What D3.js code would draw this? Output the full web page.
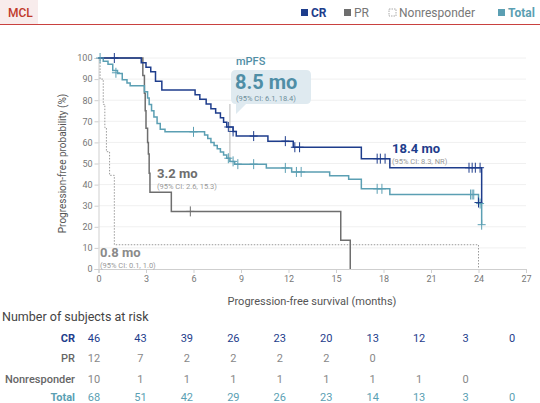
<!DOCTYPE html>
<html><head><meta charset="utf-8">
<script src="https://cdn.jsdelivr.net/npm/d3@7"></script>
<style>body{margin:0;background:#fff;font-family:Roboto,sans-serif}</style>
</head><body><div id="chart"></div>
<script>
var COLORS = {CR: '#1e3d8c', PR: '#6e6e6e', NR: '#9a9a9a', Total: '#5b9fb3'};

// step curves: [month, percent]
var CR_CURVE = [[0,100],[2.7,97.8],[3.0,95.6],[3.3,93.5],[3.6,89],[4.0,84.8],[6.1,82.6],[6.4,80.4],[6.8,78.2],[7.1,76],[7.4,73.9],[7.7,71.7],[7.9,69.5],[8.1,67.3],[8.5,65.2],[8.7,63],[10.7,60.6],[12.3,57.7],[16.6,52.3],[18.4,48],[24.2,31.5]];
var PR_CURVE = [[0,100],[2.8,91.7],[2.9,83.3],[2.95,75],[3.0,66.7],[3.1,60],[3.15,54.5],[3.2,45.4],[3.25,36.4],[4.6,27.3],[15.3,13.6],[15.9,0]];
var NR_CURVE = [[0,100],[0.1,90],[0.3,78],[0.4,67],[0.5,55.6],[0.7,44.4],[1.0,11.5],[24,0]];
var TOTAL_CURVE = [[0,100],[0.3,98.5],[0.6,97],[0.9,94.1],[1.2,92.6],[1.5,89.7],[1.8,88.2],[2.0,86.8],[2.9,84],[3.1,81],[3.2,78],[3.35,75],[3.5,72],[3.7,69],[3.9,66.2],[4.2,65],[6.7,63.5],[6.9,61.8],[7.1,60],[7.3,58.5],[7.5,57],[7.7,55.5],[7.9,54],[8.1,52.5],[8.3,51],[8.6,49.7],[10.6,47.9],[12.2,46],[14.6,44.2],[15.8,42.5],[16.6,38],[18.4,35.3],[24.0,31],[24.2,21]];

var CR_CENSOR = [[1.0,100],[8.2,67.3],[8.5,65.2],[9.8,63],[11.8,60.6],[12.4,57.7],[12.7,57.7],[17.6,52.3],[17.8,52.3],[18.1,52.3],[23.4,48],[23.6,48],[23.8,48],[24.1,48],[24.0,31.5]];
var PR_CENSOR = [[5.8,27.3]];
var TOTAL_CENSOR = [[0.1,100],[1.1,93],[6.0,65],[8.2,52.5],[8.5,51],[8.8,49.7],[9.8,49.7],[11.8,47.9],[12.5,46],[12.8,46],[17.6,38],[17.9,38],[23.5,35.3],[23.6,35.3],[23.7,35.3],[24.1,31],[24.2,21]];

var X_TICKS = [0,3,6,9,12,15,18,21,24,27];
var Y_TICKS = [0,10,20,30,40,50,60,70,80,90,100];
var RISK_ROWS = ['CR','PR','Nonresponder','Total'];
var RISK_KEYS = ['CR','PR','NR','Total'];
var RISK_CR = [46,43,39,26,23,20,13,12,3,0];
var RISK_PR = [12,7,2,2,2,2,0];
var RISK_NR = [10,1,1,1,1,1,1,1,0];
var RISK_TOTAL = [68,51,42,29,26,23,14,13,3,0];

var W = 540, H = 403;
var svg = d3.select('#chart').append('svg').attr('width', W).attr('height', H);

// header
svg.append('rect').attr('x',0).attr('y',0).attr('width',38).attr('height',24).attr('fill','#f8ecec');
svg.append('text').attr('x',8).attr('y',17).text('MCL').attr('fill','#c0392b').attr('font-size',12).attr('font-weight',500);
svg.append('line').attr('x1',0).attr('x2',W).attr('y1',24.5).attr('y2',24.5).attr('stroke','#c9413f').attr('stroke-width',1.2);

var legend = [['CR',COLORS.CR,301,'bold'],['PR',COLORS.PR,344,'normal'],['Nonresponder',null,389,'normal'],['Total',COLORS.Total,498,'bold']];
legend.forEach(function(l) {
    svg.append('rect').attr('x',l[2]).attr('y',9).attr('width',7).attr('height',7)
        .attr('fill', l[1] || '#fff').attr('stroke', l[1] ? 'none' : '#aaa').attr('stroke-dasharray', l[1] ? null : '1.5,1');
    svg.append('text').attr('x',l[2]+10).attr('y',17).text(l[0]).attr('font-size',12)
        .attr('font-weight', l[3] == 'bold' ? 700 : 400)
        .attr('fill', l[0] == 'CR' ? COLORS.CR : l[0] == 'Total' ? COLORS.Total : '#777');
});

var sx = d3.scaleLinear().domain([0,27]).range([98.5,526]);
var sy = d3.scaleLinear().domain([0,100]).range([269,58]);

var g = svg.append('g');
g.selectAll('.grid').data(Y_TICKS.slice(1)).enter().append('line')
    .attr('x1', sx(0)).attr('x2', sx(27)).attr('y1', sy).attr('y2', sy)
    .attr('stroke','#f0f0f0');

var gx = g.append('g').attr('transform','translate(0,'+ sy(0) +')')
    .call(d3.axisBottom(sx).tickValues(X_TICKS).tickSize(4).tickPadding(3));
var gy = g.append('g').attr('transform','translate('+ sx(0) +',0)')
    .call(d3.axisLeft(sy).tickValues(Y_TICKS).tickSize(4).tickPadding(2));
[gx, gy].forEach(function(a) {
    a.selectAll('path,line').attr('stroke','#cfcfcf');
    a.selectAll('text').attr('fill','#777').attr('font-size',9).attr('font-family','Roboto');
});

svg.append('text').attr('x', 312).attr('y', 305).attr('text-anchor','middle')
    .text('Progression-free survival (months)').attr('font-size',11).attr('fill','#555');
svg.append('text').attr('transform','translate(66,'+ sy(50) +') rotate(-90)').attr('text-anchor','middle')
    .text('Progression-free probability (%)').attr('font-size',10).attr('fill','#555');

// median pointer line
g.append('line').attr('x1', sx(8.3)).attr('x2', sx(8.3)).attr('y1', sy(51)).attr('y2', 104)
    .attr('stroke','#b9b9b9').attr('stroke-width',1);

var line = d3.line().x(function(d){ return sx(d[0]); }).y(function(d){ return sy(d[1]); }).curve(d3.curveStepAfter);
function draw(curve, color, width, dash) {
    g.append('path').datum(curve).attr('d', line).attr('fill','none')
        .attr('stroke', color).attr('stroke-width', width).attr('stroke-dasharray', dash);
}
function marks(pts, color) {
    g.selectAll(null).data(pts).enter().append('path')
        .attr('d', function(d){ var x = sx(d[0]), y = sy(d[1]); return 'M'+(x-4)+','+y+'H'+(x+4)+'M'+x+','+(y-5)+'V'+(y+5); })
        .attr('stroke', color).attr('stroke-width',1);
}
draw(NR_CURVE, COLORS.NR, 1, '1.5,1.5');
draw(PR_CURVE, COLORS.PR, 1.5);
draw(TOTAL_CURVE, COLORS.Total, 1.5);
draw(CR_CURVE, COLORS.CR, 1.5);
marks(PR_CENSOR, COLORS.PR);
marks(TOTAL_CENSOR, COLORS.Total);
marks(CR_CENSOR, COLORS.CR);

// annotations
svg.append('path').attr('d','M236,70 H306 Q311,70 311,75 V99 Q311,104 306,104 H246 L236,114 V104 Q231,104 231,99 V75 Q231,70 236,70 Z')
    .attr('fill','#dfeaf0');
svg.append('text').attr('x',236).attr('y',65).text('mPFS').attr('fill','#4f8ea6').attr('font-size',11).attr('font-weight',500);
svg.append('text').attr('x',235).attr('y',89).text('8.5 mo').attr('fill','#4f8ea6').attr('font-size',20).attr('font-weight',700);
svg.append('text').attr('x',236).attr('y',101).text('(95% CI: 6.1, 18.4)').attr('fill','#6e8e9b').attr('font-size',7.5);
var notes = [[392,153,'18.4 mo','(95% CI: 8.3, NR)',COLORS.CR],[157,178,'3.2 mo','(95% CI: 2.6, 15.3)','#6e6e6e'],[100,257,'0.8 mo','(95% CI: 0.1, 1.0)','#8a8a8a']];
notes.forEach(function(n) {
    svg.append('text').attr('x',n[0]).attr('y',n[1]).text(n[2]).attr('fill',n[4]).attr('font-size',13).attr('font-weight',700);
    svg.append('text').attr('x',n[0]).attr('y',n[1]+11).text(n[3]).attr('fill','#999').attr('font-size',7.5);
});

// risk table
svg.append('text').attr('x',2).attr('y',321).text('Number of subjects at risk').attr('font-size',12.5).attr('fill','#444');
var rx = d3.scaleLinear().domain([0,9]).range([94,512]);
var RISK = {CR: RISK_CR, PR: RISK_PR, NR: RISK_NR, Total: RISK_TOTAL};
var ROW_Y = [342,362,383,401];
RISK_KEYS.forEach(function(k, i) {
    var col = k == 'CR' ? COLORS.CR : k == 'Total' ? COLORS.Total : '#888';
    var labCol = k == 'CR' ? COLORS.CR : k == 'Total' ? COLORS.Total : '#666';
    svg.append('text').attr('x',75).attr('y',ROW_Y[i]).attr('text-anchor','end').text(RISK_ROWS[i])
        .attr('font-size',11).attr('font-weight', (k == 'CR' || k == 'Total') ? 700 : 500).attr('fill', labCol);
    svg.selectAll(null).data(RISK[k]).enter().append('text')
        .attr('x', function(d, j){ return rx(j); }).attr('y', ROW_Y[i]).attr('text-anchor','middle')
        .text(function(d){ return d; }).attr('font-size',11).attr('fill', col);
});
</script></body></html>
